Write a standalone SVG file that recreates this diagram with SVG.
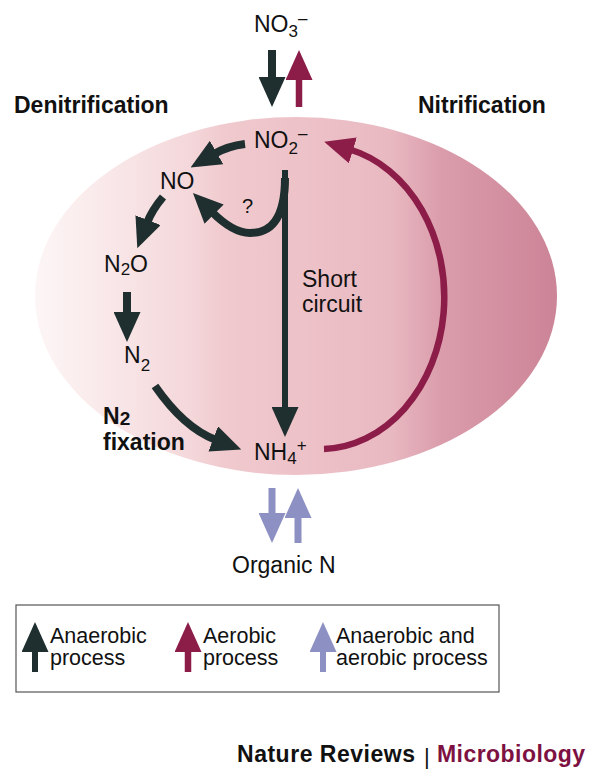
<svg xmlns="http://www.w3.org/2000/svg" width="600" height="783" viewBox="0 0 600 783">
<style>
text{font-family:"Liberation Sans",Arial,Helvetica,sans-serif;fill:#111}
.lab{font-size:23px}
.sub{font-size:17px}
.head{font-size:23px;font-weight:bold}
.leg{font-size:21.5px}
.dk{fill:none;stroke:#1f2e2e;stroke-width:8}
.rd{fill:none;stroke:#8b1d48;stroke-width:6.5}
.lv{fill:none;stroke:#8d90c2;stroke-width:7}
</style>
<defs>
<linearGradient id="bg" gradientUnits="userSpaceOnUse" x1="35" y1="0" x2="557" y2="0">
<stop offset="0" stop-color="#fdf6f6"/>
<stop offset="0.3" stop-color="#f4d7da"/>
<stop offset="0.36" stop-color="#f0cace"/>
<stop offset="0.68" stop-color="#e9b9c1"/>
<stop offset="0.78" stop-color="#da9cab"/>
<stop offset="1" stop-color="#cc8497"/>
</linearGradient>
<marker id="hd" viewBox="0 0 30 27" refX="3" refY="13.5" markerWidth="30" markerHeight="27" markerUnits="userSpaceOnUse" orient="auto"><path d="M0,0 L30,13.5 L0,27 z" fill="#1f2e2e"/></marker>
<marker id="hr" viewBox="0 0 30 27" refX="3" refY="13.5" markerWidth="30" markerHeight="27" markerUnits="userSpaceOnUse" orient="auto"><path d="M0,0 L30,13.5 L0,27 z" fill="#8b1d48"/></marker>
<marker id="hl" viewBox="0 0 30 27" refX="3" refY="13.5" markerWidth="30" markerHeight="27" markerUnits="userSpaceOnUse" orient="auto"><path d="M0,0 L30,13.5 L0,27 z" fill="#8d90c2"/></marker>
</defs>
<rect width="600" height="783" fill="#ffffff"/>
<g id="cell"><ellipse cx="296" cy="296" rx="261" ry="179" fill="url(#bg)"/></g>

<g id="connectors">
<path class="dk" d="M272,50 V80" marker-end="url(#hd)"/>
<path class="rd" d="M299,107 V77" marker-end="url(#hr)"/>
<path class="dk" d="M245,144 Q228,146 214,154" marker-end="url(#hd)"/>
<path class="dk" d="M163,197 Q152,210 147,223" marker-end="url(#hd)"/>
<path class="dk" d="M127,292 V315" marker-end="url(#hd)"/>
<path class="dk" d="M155,386 C175,415 195,432 216,440" marker-end="url(#hd)"/>
<path class="dk" style="stroke-width:6" d="M285,170 V410" marker-end="url(#hd)"/>
<path class="dk" d="M285,178 C285,220 270,233 250,233 C238,233 224,224 212,212" marker-end="url(#hd)"/>
<path class="rd" d="M324,449 A124,152 0 0 0 350,149.5" marker-end="url(#hr)"/>
<path class="lv" d="M272,488 V516" marker-end="url(#hl)"/>
<path class="lv" d="M298,543 V515" marker-end="url(#hl)"/>
</g>

<g id="no3"><text class="lab" x="254" y="32">NO<tspan class="sub" dy="5">3</tspan><tspan class="sub" dy="-13">–</tspan></text></g>
<g id="no2"><text class="lab" x="254" y="148">NO<tspan class="sub" dy="6">2</tspan><tspan class="sub" dy="-15">–</tspan></text></g>
<g id="no"><text class="lab" x="160" y="189">NO</text></g>
<g id="n2o"><text class="lab" x="104" y="272">N<tspan class="sub" dy="3">2</tspan><tspan dy="-3">O</tspan></text></g>
<g id="n2"><text class="lab" x="124" y="363">N<tspan class="sub" dy="8">2</tspan></text></g>
<g id="nh4"><text class="lab" x="254" y="460">NH<tspan class="sub" dy="4">4</tspan><tspan class="sub" dy="-13">+</tspan></text></g>
<g id="organic"><text class="lab" x="232" y="573">Organic N</text></g>
<g id="q"><text x="242" y="213" style="font-size:20px">?</text></g>
<g id="short"><text class="lab" x="302" y="287">Short</text><text class="lab" x="302" y="312">circuit</text></g>
<g id="fix"><text class="head" x="103" y="424">N<tspan dy="1" style="font-size:19px">2</tspan></text><text class="head" x="103" y="450">fixation</text></g>
<g id="denit"><text class="head" x="14" y="113">Denitrification</text></g>
<g id="nitr"><text class="head" x="418" y="113">Nitrification</text></g>

<g id="legend">
<rect x="16" y="605" width="483" height="87" fill="#ffffff" stroke="#555" stroke-width="1.2"/>
<path class="dk" style="stroke-width:6" d="M35,672 V649" marker-end="url(#hd)"/>
<text class="leg" x="50" y="643">Anaerobic</text><text class="leg" x="50" y="665">process</text>
<path class="rd" d="M188,672 V649" marker-end="url(#hr)"/>
<text class="leg" x="203" y="643">Aerobic</text><text class="leg" x="203" y="665">process</text>
<path class="lv" style="stroke-width:6" d="M323,672 V649" marker-end="url(#hl)"/>
<text class="leg" x="336" y="643">Anaerobic and</text><text class="leg" x="336" y="665">aerobic process</text>
</g>

<g id="footer">
<text x="237" y="762" style="font-size:23px;font-weight:bold" textLength="178" lengthAdjust="spacing">Nature Reviews</text>
<text x="424" y="764" style="font-size:22px">|</text>
<text x="437" y="762" style="font-size:23px;font-weight:bold;fill:#7d1242" textLength="148" lengthAdjust="spacing">Microbiology</text>
</g>
</svg>
